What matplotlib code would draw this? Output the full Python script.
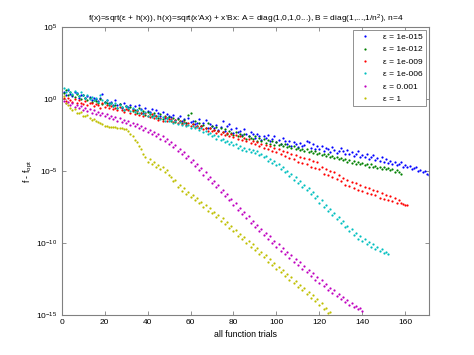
import matplotlib
matplotlib.use("Agg")
import matplotlib.pyplot as plt
import numpy as np

plt.rcParams['font.family'] = ['Liberation Sans', 'DejaVu Sans']
plt.rcParams['mathtext.default'] = 'regular'

labels = ['ε = 1e-015', 'ε = 1e-012', 'ε = 1e-009', 'ε = 1e-006', 'ε = 0.001', 'ε = 1']
colors = ['#0000ff', '#008000', '#ff0000', '#00bfbf', '#bf00bf', '#bfbf00']

# log10(f - f_opt) per trial
log_eps_1e15 = [
    0.5, 0.3, 0.65, 0.35, 0.2, 0.45, 0.4, 0.1, 0.3, 0.25,
    0.05, 0.2, 0.15, -0.1, 0.1, 0.0, -0.15, 0.05, 0.35, -0.2,
    -0.05, -0.3, -0.2, -0.45, -0.1, -0.4, -0.35, -0.6, -0.3, -0.5,
    -0.55, -0.4, -0.7, -0.5, -0.8, -0.45, -0.7, -0.95, -0.6, -0.85,
    -0.9, -0.7, -1.1, -0.8, -1.0, -1.2, -0.9, -1.3, -1.05, -1.2,
    -1.25, -1.1, -1.45, -1.35, -1.2, -1.55, -1.4, -1.7, -1.35, -1.6,
    -1.5, -1.75, -1.65, -1.4, -1.85, -1.7, -1.45, -2.0, -1.75, -1.9,
    -2.0, -1.8, -2.15, -1.95, -1.5, -2.2, -1.9, -1.75, -2.1, -2.35,
    -2.05, -2.3, -2.25, -2.5, -2.1, -2.4, -2.55, -2.3, -2.45, -2.7,
    -2.4, -2.6, -2.85, -2.55, -2.7, -2.5, -2.9, -2.75, -2.6, -3.0,
    -2.85, -3.1, -2.7, -2.95, -3.15, -2.9, -3.25, -3.0, -3.1, -3.35,
    -3.05, -3.3, -3.2, -2.95, -3.0, -3.4, -3.15, -3.5, -3.3, -3.45,
    -3.25, -3.6, -3.4, -3.5, -3.7, -3.35, -3.55, -3.75, -3.6, -3.4,
    -3.6, -3.8, -3.55, -3.85, -3.7, -3.95, -3.8, -3.65, -4.0, -3.9,
    -4.05, -3.85, -4.15, -4.0, -3.9, -4.25, -4.1, -4.3, -4.05, -4.4,
    -4.2, -4.45, -4.3, -4.55, -4.35, -4.6, -4.5, -4.4, -4.7, -4.6,
    -4.75, -4.65, -4.9, -4.8, -4.7, -5.0, -4.95, -5.1, -5.0, -5.2, -5.25]

log_eps_1e12 = [
    0.4, 0.6, 0.25, 0.5, 0.3, 0.15, 0.35, 0.2, 0.0, 0.25,
    0.1, -0.1, 0.05, -0.2, -0.05, -0.15, -0.3, 0.0, -0.35, -0.2,
    -0.3, -0.45, -0.25, -0.5, -0.4, -0.6, -0.35, -0.55, -0.75, -0.5,
    -0.7, -0.55, -0.85, -0.75, -0.95, -0.65, -1.0, -0.85, -1.1, -0.9,
    -1.05, -1.2, -0.95, -1.15, -1.3, -1.05, -1.4, -1.2, -1.35, -1.25,
    -1.5, -1.3, -1.6, -1.4, -1.55, -1.7, -1.45, -1.65, -1.1, -0.95,
    -1.75, -1.55, -1.85, -1.65, -1.9, -1.8, -2.0, -1.7, -2.05, -1.85,
    -2.15, -1.95, -2.2, -2.05, -2.3, -2.1, -2.4, -2.2, -2.35, -2.5,
    -2.3, -2.55, -2.4, -2.6, -2.45, -2.75, -2.55, -2.7, -2.8, -2.6,
    -2.9, -2.7, -2.95, -2.8, -3.05, -2.85, -3.1, -2.95, -3.2, -3.0,
    -3.2, -3.1, -3.25, -3.15, -3.35, -3.25, -3.4, -3.3, -3.5, -3.4,
    -3.55, -3.45, -3.6, -3.5, -3.7, -3.6, -3.75, -3.65, -3.85, -3.75,
    -3.9, -3.8, -3.95, -3.85, -4.05, -3.95, -4.1, -4.0, -4.2, -4.1,
    -4.25, -4.15, -4.35, -4.25, -4.45, -4.3, -4.5, -4.4, -4.55, -4.45,
    -4.6, -4.5, -4.7, -4.55, -4.75, -4.65, -4.8, -4.7, -4.85, -4.75,
    -4.9, -4.8, -4.95, -4.85, -5.05, -4.95, -5.1, -5.2]

log_eps_1e9 = [
    0.05, -0.15, 0.1, -0.1, -0.2, 0.0, -0.3, -0.05, -0.25, -0.35,
    -0.15, -0.4, -0.25, -0.3, -0.5, -0.35, -0.45, -0.6, -0.3, -0.55,
    -0.45, -0.65, -0.5, -0.7, -0.6, -0.8, -0.55, -0.75, -0.9, -0.7,
    -0.8, -0.95, -0.75, -1.05, -0.85, -1.1, -0.95, -1.2, -1.0, -1.15,
    -1.25, -1.05, -1.35, -1.2, -1.45, -1.3, -1.5, -1.25, -1.55, -1.4,
    -1.4, -1.6, -1.45, -1.65, -1.55, -1.75, -1.6, -1.8, -1.7, -1.9,
    -1.75, -1.95, -1.85, -2.05, -1.9, -2.1, -2.0, -2.2, -2.05, -2.25,
    -2.15, -2.35, -2.2, -2.4, -2.3, -2.5, -2.35, -2.55, -2.45, -2.65,
    -2.5, -2.75, -2.6, -2.85, -2.7, -2.95, -2.8, -3.05, -2.9, -3.15,
    -3.0, -3.25, -3.1, -3.4, -3.2, -3.5, -3.3, -3.6, -3.4, -3.7,
    -3.5, -3.85, -3.6, -3.95, -3.7, -4.1, -3.8, -4.2, -3.9, -4.35,
    -4.0, -4.45, -4.1, -4.55, -4.2, -4.7, -4.3, -4.8, -4.4, -4.9,
    -4.75, -5.2, -4.85, -5.3, -5.0, -5.45, -5.1, -5.55, -5.25, -5.7,
    -5.5, -5.95, -5.65, -6.05, -5.75, -6.2, -5.85, -6.3, -6.0, -6.4,
    -6.1, -6.5, -6.2, -6.6, -6.3, -6.7, -6.4, -6.85, -6.55, -6.95,
    -6.65, -7.05, -6.75, -7.1, -6.85, -7.2, -7.0, -7.25, -7.3, -7.35, -7.4]

log_eps_1e6 = [
    0.75, 0.45, 0.7, 0.5, 0.35, 0.55, 0.4, 0.2, 0.45, 0.3,
    0.1, 0.25, 0.0, 0.15, -0.1, 0.05, -0.2, 0.3, -0.05, -0.25,
    -0.1, -0.35, -0.25, -0.5, -0.3, -0.6, -0.4, -0.55, -0.75, -0.5,
    -0.65, -0.85, -0.6, -0.9, -0.75, -1.0, -0.8, -1.05, -0.9, -1.15,
    -1.0, -1.25, -1.1, -1.3, -1.15, -1.4, -1.25, -1.5, -1.35, -1.55,
    -1.45, -1.65, -1.5, -1.75, -1.6, -1.8, -1.7, -1.9, -1.8, -2.0,
    -1.85, -2.05, -1.95, -2.15, -2.05, -2.3, -2.2, -2.45, -2.35, -2.6,
    -2.5, -2.75, -2.6, -2.85, -2.75, -3.0, -2.9, -3.1, -3.0, -3.2,
    -3.15, -3.4, -3.3, -3.55, -3.4, -3.6, -3.45, -3.7, -3.55, -3.75,
    -3.65, -3.9, -3.8, -4.05, -3.95, -4.3, -4.15, -4.45, -4.3, -4.6,
    -4.5, -4.85, -4.75, -5.1, -5.0, -5.35, -5.2, -5.6, -5.45, -5.85,
    -5.7, -6.1, -5.95, -6.35, -6.2, -6.6, -6.45, -6.9, -6.75, -7.2,
    -7.05, -7.5, -7.35, -7.8, -7.65, -8.05, -7.9, -8.35, -8.2, -8.6,
    -8.5, -8.9, -8.8, -9.2, -9.05, -9.45, -9.3, -9.7, -9.5, -9.9,
    -9.75, -10.1, -9.95, -10.25, -10.1, -10.4, -10.3, -10.55, -10.45, -10.7,
    -10.6, -10.8]

log_eps_1e3 = [
    -0.15, -0.3, -0.2, -0.45, -0.3, -0.55, -0.4, -0.65, -0.5, -0.75,
    -0.6, -0.85, -0.7, -0.95, -0.8, -1.05, -0.9, -1.1, -0.95, -1.2,
    -1.05, -1.3, -1.15, -1.4, -1.25, -1.5, -1.35, -1.6, -1.45, -1.7,
    -1.55, -1.8, -1.65, -1.9, -1.75, -2.0, -1.85, -2.15, -2.0, -2.3,
    -2.15, -2.45, -2.3, -2.6, -2.45, -2.75, -2.6, -2.9, -2.75, -3.1,
    -3.0, -3.35, -3.2, -3.6, -3.45, -3.85, -3.7, -4.1, -3.95, -4.4,
    -4.25, -4.65, -4.5, -4.95, -4.8, -5.25, -5.1, -5.55, -5.4, -5.85,
    -5.7, -6.15, -6.0, -6.45, -6.3, -6.75, -6.6, -7.05, -6.95, -7.4,
    -7.25, -7.7, -7.55, -8.0, -7.85, -8.3, -8.15, -8.6, -8.45, -8.9,
    -8.75, -9.2, -9.0, -9.45, -9.3, -9.75, -9.55, -10.0, -9.85, -10.3,
    -10.1, -10.55, -10.35, -10.8, -10.6, -11.05, -10.85, -11.3, -11.1, -11.55,
    -11.35, -11.8, -11.6, -12.05, -11.85, -12.3, -12.1, -12.55, -12.35, -12.8,
    -12.6, -13.0, -12.85, -13.25, -13.1, -13.5, -13.3, -13.7, -13.55, -13.9,
    -13.75, -14.1, -13.95, -14.3, -14.15, -14.45, -14.35, -14.6, -14.55, -14.75]

log_eps_1 = [
    0.2, -0.3, -0.45, -0.6, -0.8, -0.7, -0.95, -1.0, -0.9, -1.15,
    -1.2, -1.1, -1.35, -1.45, -1.4, -1.55, -1.6, -1.7, -1.75, -1.85,
    -1.9, -1.92, -1.94, -1.96, -1.98, -2.0, -2.02, -2.05, -2.08, -2.12,
    -2.25, -2.45, -2.6, -2.85, -3.0, -3.3, -3.5, -3.85, -4.0, -4.35,
    -4.2, -4.55, -4.4, -4.75, -4.6, -4.9, -4.75, -5.05, -4.95, -5.25,
    -5.4, -5.7, -5.6, -6.1, -5.95, -6.4, -6.2, -6.6, -6.45, -6.8,
    -6.7, -7.0, -6.9, -7.25, -7.15, -7.5, -7.4, -7.75, -7.6, -7.95,
    -7.85, -8.2, -8.05, -8.45, -8.3, -8.7, -8.55, -8.95, -8.8, -9.2,
    -9.1, -9.5, -9.35, -9.75, -9.6, -10.0, -9.85, -10.25, -10.1, -10.5,
    -10.35, -10.75, -10.6, -11.0, -10.85, -11.3, -11.1, -11.55, -11.4, -11.8,
    -11.65, -12.05, -11.9, -12.3, -12.15, -12.55, -12.4, -12.8, -12.65, -13.05,
    -12.9, -13.3, -13.15, -13.55, -13.4, -13.8, -13.65, -14.05, -13.9, -14.3,
    -14.2, -14.6, -14.5, -14.9, -14.8]

series = [log_eps_1e15, log_eps_1e12, log_eps_1e9, log_eps_1e6, log_eps_1e3, log_eps_1]

x_ticks = [0, 20, 40, 60, 80, 100, 120, 140, 160]
y_ticks = [1e-15, 1e-10, 1e-5, 1e0, 1e5]
y_ticklabels = [r'$10^{-15}$', r'$10^{-10}$', r'$10^{-5}$', r'$10^{0}$', r'$10^{5}$']

fig = plt.figure(figsize=(4.74, 3.55), dpi=100)
ax = fig.add_axes([0.130, 0.113, 0.775, 0.811])

for vals, c, lab in zip(series, colors, labels):
    t = np.arange(1, len(vals) + 1)
    ax.semilogy(t, 10.0 ** np.array(vals), ls='none', marker='o', ms=1.6,
                mew=0, color=c, label=lab)

ax.set_xlim(0, 171)
ax.set_ylim(1e-15, 1e5)
ax.set_xticks(x_ticks)
ax.set_yticks(y_ticks)
ax.set_yticklabels(y_ticklabels)
ax.yaxis.set_minor_locator(matplotlib.ticker.NullLocator())
ax.tick_params(direction='in', top=True, right=True, length=3, width=0.6,
               labelsize=6, color='#808080', pad=3)
for s in ax.spines.values():
    s.set_color('#808080')
    s.set_linewidth(0.8)

ax.set_title("f(x)=sqrt(ε + h(x)), h(x)=sqrt(x'Ax) + x'Bx: A = diag(1,0,1,0...), B = diag(1,...,1/n$^{2}$), n=4",
             fontsize=6, pad=4)
ax.set_xlabel('all function trials', fontsize=6.3, labelpad=3)
ax.set_ylabel(r'f - f$_{opt}$', fontsize=6.3, labelpad=1)

leg = ax.legend(loc='upper right', fontsize=6, fancybox=False, framealpha=1,
                edgecolor='#808080', markerscale=1.0, handlelength=2.0,
                borderaxespad=0.35, labelspacing=0.55, handletextpad=1.2,
                borderpad=0.4)
leg.get_frame().set_linewidth(0.6)

fig.savefig('out.png', dpi=100)
